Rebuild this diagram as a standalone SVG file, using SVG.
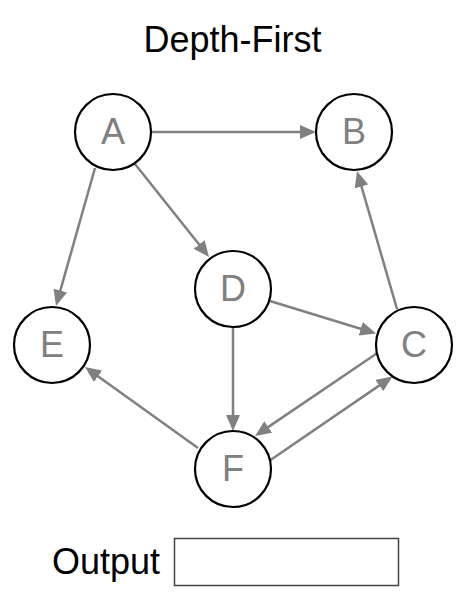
<svg xmlns="http://www.w3.org/2000/svg" width="474" height="606" viewBox="0 0 474 606">
<style>
  .title { font-family: "Liberation Sans", Arial, sans-serif; font-size: 36px; fill: #000; }
  .node circle { fill: #fff; stroke: #000; stroke-width: 2.2; }
  .node text { font-family: "Liberation Sans", Arial, sans-serif; font-size: 36px; fill: #808080; text-anchor: middle; }
  .edges line { stroke: #808080; stroke-width: 2.5; marker-end: url(#arrow); }
</style>
<defs>
  <marker id="arrow" markerUnits="userSpaceOnUse" markerWidth="16" markerHeight="14" refX="10" refY="7" orient="auto" viewBox="0 0 16 14">
    <path d="M0,0 L16,7 L0,14 z" fill="#808080"/>
  </marker>
</defs>
<rect width="474" height="606" fill="#fff"/>
<text class="title" x="232.5" y="52" text-anchor="middle">Depth-First</text>
<g id="edges" class="edges">
  <line x1="151" y1="132" x2="310" y2="132"/>
  <line x1="135" y1="164" x2="205.3" y2="252.3"/>
  <line x1="95" y1="168" x2="57.6" y2="300.2"/>
  <line x1="270" y1="301" x2="370.3" y2="331.7"/>
  <line x1="233" y1="327" x2="233" y2="425"/>
  <line x1="397" y1="309" x2="358.7" y2="176.8"/>
  <line x1="377" y1="353.3" x2="260" y2="432.6"/>
  <line x1="270.5" y1="460" x2="387.5" y2="379.9"/>
  <line x1="198" y1="448" x2="89.9" y2="370.5"/>
</g>
<g id="node-A" class="node"><circle cx="113" cy="132" r="38"/><text x="113" y="144">A</text></g>
<g id="node-B" class="node"><circle cx="354" cy="132" r="38"/><text x="354" y="144">B</text></g>
<g id="node-D" class="node"><circle cx="233" cy="289" r="38"/><text x="233" y="301">D</text></g>
<g id="node-E" class="node"><circle cx="52" cy="345" r="38"/><text x="52" y="357">E</text></g>
<g id="node-C" class="node"><circle cx="414" cy="345" r="38"/><text x="414" y="357">C</text></g>
<g id="node-F" class="node"><circle cx="233" cy="469" r="38"/><text x="233" y="481">F</text></g>
<g id="output">
  <text class="title" x="52" y="574">Output</text>
  <rect x="174.5" y="538.5" width="224" height="47" fill="#fff" stroke="#444" stroke-width="1.5"/>
</g>
</svg>
